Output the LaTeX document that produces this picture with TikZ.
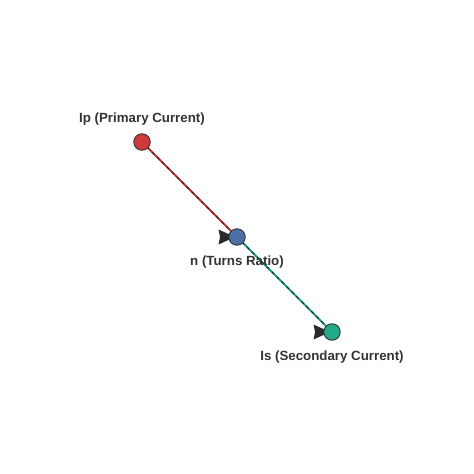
\documentclass[tikz,border=0pt]{standalone}
\usepackage{fontspec}
\setmainfont{Liberation Sans}
\usepackage{tikz}
\usetikzlibrary{backgrounds,calc}

\definecolor{primred}{HTML}{D03A3A}
\definecolor{edgered}{HTML}{C03232}
\definecolor{ratioblue}{HTML}{4A6FA5}
\definecolor{secgreen}{HTML}{20AA88}
\definecolor{edgegreen}{HTML}{1A9E7C}
\definecolor{tipgray}{HTML}{2A2A2A}
\definecolor{labelgray}{HTML}{333333}

\begin{document}
\begin{tikzpicture}[x=1pt,y=-1pt]
    % `quantity' is used for the three circles.
    % `flow' is the coloured connector, `flowdash' the dark dashes on top.
    \tikzstyle{quantity} = [draw=black!80,line width=0.9pt,shape=circle,minimum size=16.5pt,inner sep=0pt]
    \tikzstyle{caption} = [font=\bfseries\fontsize{13.3}{15}\selectfont,text=labelgray]
    \tikzstyle{flow} = [line width=2pt]
    \tikzstyle{flowdash} = [line width=0.9pt,black!85,dash pattern=on 3.5pt off 3.5pt]
    \useasboundingbox (0,0) rectangle (474,474);
    %
    \node[quantity,fill=primred] (Ip) at (142,142) {};
    \node[quantity,fill=ratioblue] (N) at (237,237) {};
    \node[quantity,fill=secgreen] (Is) at (332,332) {};
    % Labels.
    \node[caption] (IpLabel) at ($(Ip)+(0,-22.5)$) {Ip (Primary Current)};
    \node[caption] (NLabel) at ($(N)+(0,25.5)$) {n (Turns Ratio)};
    \node[caption] (IsLabel) at ($(Is)+(0,25.5)$) {Is (Secondary Current)};
  \begin{pgfonlayer}{background}
        % Draw connectors.
        \draw[flow,edgered] (Ip.center) -- (N.center);
        \draw[flowdash] (Ip.center) -- (N.center);
        \draw[flow,edgegreen] (N.center) -- (Is.center);
        \draw[flowdash] (N.center) -- (Is.center);
        % Draw arrow heads.
        \foreach \target in {N,Is} {
          \fill[tipgray] ($(\target.center)+(-18.5,-7.5)$) -- ($(\target.center)+(-2,0)$)
                         -- ($(\target.center)+(-18.5,7.5)$) -- ($(\target.center)+(-17,0)$) -- cycle;
        }
    \end{pgfonlayer}
\end{tikzpicture}
\end{document}
